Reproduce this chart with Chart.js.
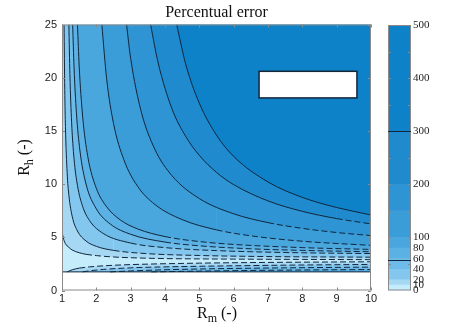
<!DOCTYPE html>
<html>
<head>
<meta charset="utf-8">
<script src="https://cdn.jsdelivr.net/npm/chart.js@4.4.0/dist/chart.umd.min.js"></script>
<style>
  body { margin: 0; background: #fff; }
  #wrap { position: relative; width: 474px; height: 330px; }
  canvas { position: absolute; left: 0; top: 0; }
</style>
</head>
<body>
<div id="wrap">
  <canvas id="main" width="474" height="330"></canvas>
  <canvas id="bar" width="474" height="330"></canvas>
</div>
<script>
// contour lines, [Rm, Rh]
const floorLine = [[1, 1.75], [10, 1.75]];
const lvl10 = [[1, 5.5], [1.05, 4.8], [1.1, 4.4], [1.2, 4.05], [1.3, 3.8], [1.5, 3.55], [1.7, 3.4], [2, 3.28], [2.5, 3.15], [3, 3.08], [4, 3.0], [5, 2.97], [6, 2.95], [8, 2.92], [10, 2.9]];
const lvl20 = [[1.06, 25], [1.08, 18.9], [1.1, 15.4], [1.15, 11.06], [1.2, 8.96], [1.3, 6.92], [1.45, 5.59], [1.7, 4.65], [2, 4.15], [2.5, 3.77], [3.5, 3.46], [5, 3.29], [7, 3.19], [10, 3.13]];
const lvl40 = [[1.2, 25], [1.23, 20.3], [1.28, 15.8], [1.35, 12.4], [1.45, 9.87], [1.6, 7.91], [1.8, 6.58], [2.2, 5.36], [3, 4.46], [4, 4.03], [5.5, 3.75], [7.5, 3.57], [10, 3.47]];
const lvl60 = [[1.31, 25], [1.35, 21], [1.42, 16.7], [1.52, 13.2], [1.7, 10.0], [2, 7.67], [2.4, 6.26], [3, 5.28], [4, 4.55], [5, 4.2], [6.5, 3.92], [8, 3.77], [10, 3.64]];
const lvl80 = [[1.45, 25], [1.5, 21.1], [1.6, 16.4], [1.75, 12.6], [2, 9.6], [2.3, 7.87], [2.7, 6.63], [3.2, 5.79], [4, 5.07], [5, 4.6], [6, 4.33], [8, 4.03], [10, 3.86]];
const lvl100 = [[2.16, 25], [2.3, 19.9], [2.5, 15.7], [2.8, 12.3], [3.2, 9.8], [3.7, 8.1], [4.5, 6.66], [5.5, 5.7], [6.5, 5.14], [8, 4.63], [10, 4.24]];
const lvl150 = [[2.88, 25], [3.0, 21.8], [3.3, 16.9], [3.7, 13.3], [4.2, 10.8], [5, 8.64], [6, 7.21], [7, 6.38], [8, 5.84], [9, 5.45], [10, 5.16]];
const lvl200 = [[3.58, 25], [3.8, 21.4], [4.2, 17.1], [4.6, 14.5], [5, 12.7], [5.5, 11.1], [6, 9.95], [7, 8.42], [8, 7.44], [9, 6.76], [10, 6.26]];
const lvl300 = [[4.34, 25], [4.6, 21.3], [5, 17.6], [5.5, 14.6], [6, 12.6], [7, 10.2], [8, 8.75], [9, 7.8], [10, 7.1]];
// lines rising from the bottom edge
const low10 = [[1.15, 1.75], [1.3, 1.95], [1.5, 2.1], [1.8, 2.22], [2.5, 2.37], [3.5, 2.48], [5, 2.57], [7, 2.64], [10, 2.7]];
const low20 = [[1.6, 1.75], [1.8, 1.85], [2.2, 1.98], [3, 2.13], [4, 2.22], [5.5, 2.3], [7.5, 2.38], [10, 2.45]];
const low40 = [[2.4, 1.75], [3, 1.84], [4, 1.95], [5.5, 2.05], [7.5, 2.13], [10, 2.2]];
const low60 = [[3.6, 1.75], [5, 1.82], [7, 1.9], [10, 1.97]];

const xTicks = [1, 2, 3, 4, 5, 6, 7, 8, 9, 10];
const yTicks = [0, 5, 10, 15, 20, 25];
const legendBox = [[6.74, 20.6], [9.59, 18.1]];

// colour bar
const cbBands = [[0, 10], [10, 20], [20, 40], [40, 60], [60, 80], [80, 100], [100, 150], [150, 200], [200, 300], [300, 500]];
const cbColors = ['#c4ecfb', '#a6d8f4', '#84c7ee', '#6cbbe8', '#5bb1e3', '#4aa7de', '#3b9dd8', '#2e94d3', '#1f8bce', '#0e82c8'];
const cbTicks = [0, 10, 20, 40, 60, 80, 100, 200, 300, 400, 500];
const cbMinor = [50, 100, 150, 200, 250, 350, 400, 450];
const cbLines = [57, 300];

const lineColor = '#10263d';
const pts = arr => arr.map(p => ({ x: p[0], y: p[1] }));

const dashFlat = ctx => {
    const dx = Math.abs(ctx.p1.x - ctx.p0.x);
    const dy = Math.abs(ctx.p1.y - ctx.p0.y);
    return dy < dx * 0.2 ? [6, 3] : undefined;
};

function contour(data, fill, color, order) {
    return {
        data: pts(data),
        fill: fill,
        backgroundColor: color,
        borderColor: lineColor,
        borderWidth: 1,
        pointRadius: 0,
        cubicInterpolationMode: 'monotone',
        order: order,
        segment: { borderDash: dashFlat }
    };
}

const datasets = [
    { data: pts(floorLine), fill: 'end', backgroundColor: cbColors[0], borderWidth: 0, pointRadius: 0, order: 30 },
    contour(lvl10, 'end', cbColors[1], 29),
    contour(lvl20, 'end', cbColors[2], 28),
    contour(lvl40, 'end', cbColors[3], 27),
    contour(lvl60, 'end', cbColors[4], 26),
    contour(lvl80, 'end', cbColors[5], 25),
    contour(lvl100, 'end', cbColors[6], 24),
    contour(lvl150, 'end', cbColors[7], 23),
    contour(lvl200, 'end', cbColors[8], 22),
    contour(lvl300, 'end', cbColors[9], 21),
    contour(low10, { value: 1.75 }, cbColors[1], 20),
    contour(low20, { value: 1.75 }, cbColors[2], 19),
    contour(low40, { value: 1.75 }, cbColors[3], 18),
    contour(low60, { value: 1.75 }, cbColors[4], 17),
    { data: pts(floorLine), fill: false, borderColor: lineColor, borderWidth: 1, pointRadius: 0, order: 0 }
];

function drawSub(ctx, x, y, parts) {
    let w = 0;
    parts.forEach(p => { ctx.font = p.size + 'px "Liberation Serif"'; p.w = ctx.measureText(p.t).width; w += p.w; });
    let cx = x - w / 2;
    ctx.textAlign = 'left';
    ctx.textBaseline = 'alphabetic';
    parts.forEach(p => {
        ctx.font = p.size + 'px "Liberation Serif"';
        ctx.fillText(p.t, cx, y + p.dy);
        cx += p.w;
    });
}

const decor = {
    id: 'decor',
    afterDatasetsDraw(chart) {
        const { ctx, chartArea: a, scales: { x, y } } = chart;
        ctx.save();
        // empty legend box
        const bx0 = x.getPixelForValue(legendBox[0][0]), by0 = y.getPixelForValue(legendBox[0][1]);
        const bx1 = x.getPixelForValue(legendBox[1][0]), by1 = y.getPixelForValue(legendBox[1][1]);
        ctx.fillStyle = '#fff';
        ctx.fillRect(bx0, by0, bx1 - bx0, by1 - by0);
        ctx.strokeStyle = '#14263a';
        ctx.lineWidth = 1.5;
        ctx.strokeRect(bx0, by0, bx1 - bx0, by1 - by0);

        // frame and inward ticks
        ctx.strokeStyle = '#8a8a8a';
        ctx.lineWidth = 1;
        ctx.strokeRect(a.left + 0.5, a.top + 0.5, a.right - a.left - 1, a.bottom - a.top - 1);
        ctx.beginPath();
        xTicks.forEach(v => {
            const px = Math.round(x.getPixelForValue(v)) + 0.5;
            ctx.moveTo(px, a.bottom); ctx.lineTo(px, a.bottom - 3);
            ctx.moveTo(px, a.top); ctx.lineTo(px, a.top + 3);
        });
        yTicks.forEach(v => {
            const py = Math.round(y.getPixelForValue(v)) + 0.5;
            ctx.moveTo(a.left, py); ctx.lineTo(a.left + 3, py);
            ctx.moveTo(a.right, py); ctx.lineTo(a.right - 3, py);
        });
        ctx.stroke();

        // titles
        ctx.fillStyle = '#111';
        ctx.font = '16px "Liberation Serif"';
        ctx.textAlign = 'center';
        ctx.textBaseline = 'alphabetic';
        ctx.fillText('Percentual error', (a.left + a.right) / 2, 17);
        drawSub(ctx, 217, 318, [{ t: 'R', size: 16, dy: 0 }, { t: 'm', size: 12, dy: 4 }, { t: ' (-)', size: 16, dy: 0 }]);
        ctx.translate(29, (a.top + a.bottom) / 2);
        ctx.rotate(-Math.PI / 2);
        drawSub(ctx, 0, 0, [{ t: 'R', size: 16, dy: 0 }, { t: 'h', size: 12, dy: 4 }, { t: ' (-)', size: 16, dy: 0 }]);
        ctx.restore();
    }
};

new Chart(document.getElementById('main'), {
    type: 'line',
    data: { datasets: datasets },
    options: {
        responsive: false,
        animation: false,
        devicePixelRatio: 1,
        layout: { padding: { left: 0, top: 24.5, right: 103, bottom: 0 } },
        plugins: { legend: { display: false }, tooltip: { enabled: false } },
        scales: {
            x: {
                type: 'linear', min: 1, max: 10,
                afterBuildTicks: s => { s.ticks = xTicks.map(v => ({ value: v })); },
                afterFit: s => { s.height = 39.5; },
                grid: { display: false, drawTicks: false },
                border: { display: false },
                ticks: { padding: 2, color: '#222', font: { family: 'Liberation Sans', size: 11 } }
            },
            y: {
                type: 'linear', min: 0, max: 25,
                afterBuildTicks: s => { s.ticks = yTicks.map(v => ({ value: v })); },
                afterFit: s => { s.width = 62; },
                grid: { display: false, drawTicks: false },
                border: { display: false },
                ticks: { padding: 5, color: '#222', font: { family: 'Liberation Sans', size: 11 } }
            }
        }
    },
    plugins: [decor]
});

// colour bar as floating bars on its own value axis
const cbDecor = {
    id: 'cbDecor',
    afterDatasetsDraw(chart) {
        const { ctx, chartArea: a, scales: { y } } = chart;
        ctx.save();
        ctx.strokeStyle = '#8a8a8a';
        ctx.lineWidth = 1;
        ctx.strokeRect(a.left + 0.5, a.top + 0.5, a.right - a.left - 1, a.bottom - a.top - 1);
        ctx.beginPath();
        cbMinor.forEach(v => {
            const py = Math.round(y.getPixelForValue(v)) + 0.5;
            ctx.moveTo(a.left, py); ctx.lineTo(a.left + 3, py);
            ctx.moveTo(a.right, py); ctx.lineTo(a.right - 3, py);
        });
        ctx.stroke();
        ctx.strokeStyle = lineColor;
        ctx.beginPath();
        cbLines.forEach(v => {
            const py = Math.round(y.getPixelForValue(v)) + 0.5;
            ctx.moveTo(a.left, py); ctx.lineTo(a.right, py);
        });
        ctx.stroke();
        ctx.restore();
    }
};

new Chart(document.getElementById('bar'), {
    type: 'bar',
    data: {
        labels: ['err'],
        datasets: cbBands.map((b, i) => ({
            data: [b],
            backgroundColor: cbColors[i],
            borderWidth: 0,
            grouped: false,
            barPercentage: 1,
            categoryPercentage: 1
        }))
    },
    options: {
        responsive: false,
        animation: false,
        devicePixelRatio: 1,
        layout: { padding: { left: 388, top: 25, right: 0, bottom: 39.5 } },
        plugins: { legend: { display: false }, tooltip: { enabled: false } },
        scales: {
            x: { display: false },
            y: {
                position: 'right', min: 0, max: 500,
                afterBuildTicks: s => { s.ticks = cbTicks.map(v => ({ value: v })); },
                afterFit: s => { s.width = 63; },
                grid: { display: false, drawTicks: false },
                border: { display: false },
                ticks: { autoSkip: false, padding: 2, color: '#222', font: { family: 'Liberation Serif', size: 11 } }
            }
        }
    },
    plugins: [cbDecor]
});
</script>
</body>
</html>
